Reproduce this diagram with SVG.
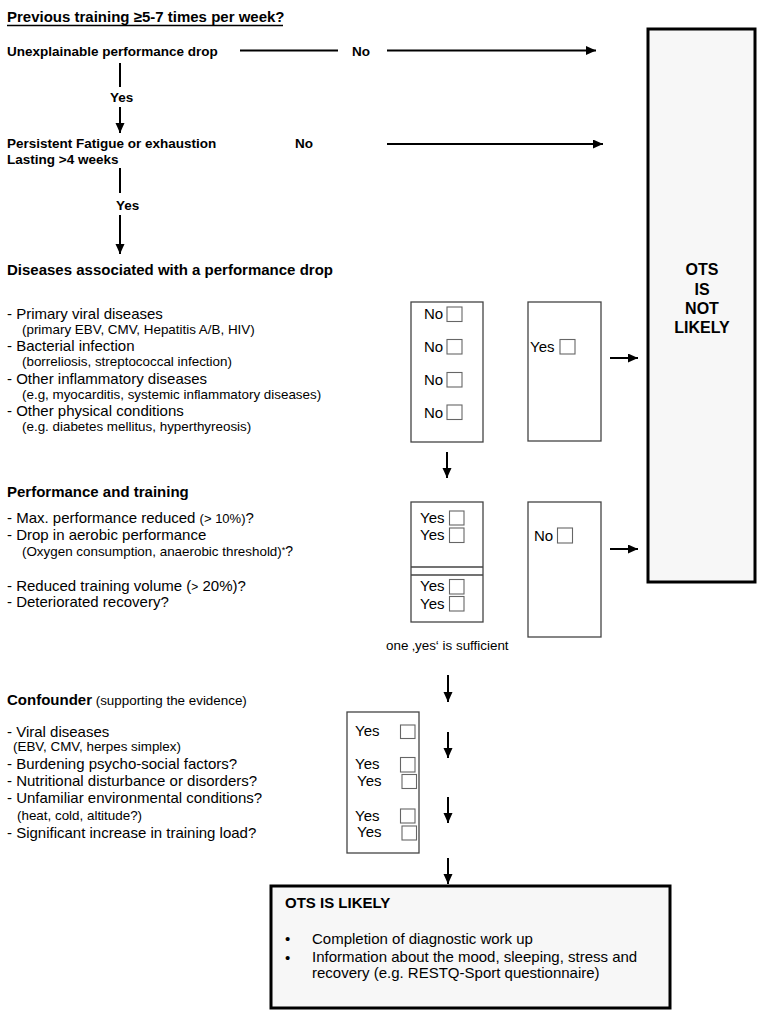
<svg xmlns="http://www.w3.org/2000/svg" width="768" height="1017" viewBox="0 0 768 1017">
<style>
text{font-family:"Liberation Sans",Arial,sans-serif;fill:#000}
.b{font-weight:bold}
.q{font-size:13.5px;font-weight:bold}
.h{font-size:15px;font-weight:bold}
.t{font-size:15px}
.s{font-size:13.4px}
.box{fill:#fff;stroke:#444;stroke-width:1.3}
.cb{fill:#fff;stroke:#666;stroke-width:1.1}
.big{fill:#f7f7f7;stroke:#000;stroke-width:3}
.ln{stroke:#000;stroke-width:2;fill:none}
.ar{stroke:#000;stroke-width:2;fill:none;marker-end:url(#ah)}
</style>
<defs>
<marker id="ah" markerUnits="userSpaceOnUse" markerWidth="11" markerHeight="10" refX="10" refY="4.5" orient="auto">
<path d="M0,0 L10,4.5 L0,9 Z" fill="#000"/>
</marker>
</defs>
<rect width="768" height="1017" fill="#fff"/>

<g id="title">
<text x="7" y="22" class="h">Previous training ≥5-7 times per week?</text>
<line x1="7" y1="25.5" x2="283" y2="25.5" stroke="#000" stroke-width="1.3"/>
</g>

<g id="q1"><text x="7" y="56" class="q">Unexplainable performance drop</text></g>
<g id="q2">
<text x="7" y="148" class="q">Persistent Fatigue or exhaustion</text>
<text x="7" y="164" class="q">Lasting &gt;4 weeks</text>
</g>

<g id="connectors">
<line x1="240" y1="50.5" x2="338" y2="50.5" class="ln"/>
<text x="352" y="56" class="q">No</text>
<line x1="387" y1="50.5" x2="596" y2="50.5" class="ar"/>
<line x1="120" y1="63" x2="120" y2="87" class="ln"/>
<text x="110" y="102" class="q">Yes</text>
<line x1="120" y1="107" x2="120" y2="133" class="ar"/>
<text x="295" y="148" class="q">No</text>
<line x1="387" y1="144" x2="603" y2="144" class="ar"/>
<line x1="120" y1="168" x2="120" y2="193" class="ln"/>
<text x="116" y="210" class="q">Yes</text>
<line x1="120" y1="215" x2="120" y2="254" class="ar"/>
<line x1="610" y1="358" x2="638" y2="358" class="ar"/>
<line x1="447" y1="452" x2="447" y2="478" class="ar"/>
<line x1="610" y1="549" x2="638" y2="549" class="ar"/>
<line x1="448" y1="675" x2="448" y2="702" class="ar"/>
<line x1="448" y1="732" x2="448" y2="758" class="ar"/>
<line x1="448" y1="797" x2="448" y2="823" class="ar"/>
<line x1="448" y1="858" x2="448" y2="884" class="ar"/>
</g>

<g id="diseases">
<text x="7" y="275" class="h">Diseases associated with a performance drop</text>
<text x="7" y="319" class="t">- Primary viral diseases</text>
<text x="22" y="334" class="s">(primary EBV, CMV, Hepatitis A/B, HIV)</text>
<text x="7" y="351" class="t">- Bacterial infection</text>
<text x="22" y="366" class="s">(borreliosis, streptococcal infection)</text>
<text x="7" y="384" class="t">- Other inflammatory diseases</text>
<text x="22" y="399" class="s">(e.g, myocarditis, systemic inflammatory diseases)</text>
<text x="7" y="416" class="t">- Other physical conditions</text>
<text x="22" y="431" class="s">(e.g. diabetes mellitus, hyperthyreosis)</text>
</g>

<g id="diseases-no">
<rect x="411" y="302" width="72" height="140" class="box"/>
<text x="424" y="319" class="t">No</text><rect x="447" y="307" width="15" height="14.5" class="cb"/>
<text x="424" y="352" class="t">No</text><rect x="447" y="339.5" width="15" height="14.5" class="cb"/>
<text x="424" y="385" class="t">No</text><rect x="447" y="372.5" width="15" height="14.5" class="cb"/>
<text x="424" y="418" class="t">No</text><rect x="447" y="405" width="15" height="14.5" class="cb"/>
</g>
<g id="diseases-yes">
<rect x="528" y="302" width="73" height="139" class="box"/>
<text x="530" y="352" class="t">Yes</text><rect x="560" y="339.5" width="15" height="14.5" class="cb"/>
</g>

<g id="not-likely">
<rect x="648" y="29" width="107" height="553" class="big"/>
<text x="702" y="275" class="b" font-size="16" text-anchor="middle">OTS</text>
<text x="702" y="295" class="b" font-size="16" text-anchor="middle">IS</text>
<text x="702" y="314" class="b" font-size="16" text-anchor="middle">NOT</text>
<text x="702" y="333" class="b" font-size="16" text-anchor="middle">LIKELY</text>
</g>

<g id="performance">
<text x="7" y="497" class="h">Performance and training</text>
<text x="7" y="523" class="t">- Max. performance reduced <tspan font-size="13">(&gt; 10%)</tspan>?</text>
<text x="7" y="540" class="t">- Drop in aerobic performance</text>
<text x="22" y="556" class="s">(Oxygen consumption, anaerobic threshold)<tspan font-size="9" dy="-3">*</tspan><tspan font-size="14" dy="3">?</tspan></text>
<text x="7" y="591" class="t">- Reduced training volume (<tspan font-size="12">&gt;</tspan> 20%)?</text>
<text x="7" y="607" class="t">- Deteriorated recovery?</text>
<text x="386" y="650" class="s">one ‚yes‘ is sufficient</text>
</g>

<g id="performance-yes">
<rect x="411" y="502" width="72" height="120" class="box"/>
<line x1="411" y1="567" x2="483" y2="567" stroke="#444" stroke-width="1.3"/>
<line x1="411" y1="575" x2="483" y2="575" stroke="#444" stroke-width="1.3"/>
<text x="420" y="523" class="t">Yes</text><rect x="449.5" y="511" width="14.5" height="14" class="cb"/>
<text x="420" y="540" class="t">Yes</text><rect x="449.5" y="528" width="14.5" height="14.5" class="cb"/>
<text x="420" y="591" class="t">Yes</text><rect x="449.5" y="579.5" width="14.5" height="14.5" class="cb"/>
<text x="420" y="609" class="t">Yes</text><rect x="449.5" y="596.5" width="14.5" height="14.5" class="cb"/>
</g>
<g id="performance-no">
<rect x="528" y="502" width="73" height="135" class="box"/>
<text x="534" y="541" class="t">No</text><rect x="557.5" y="528" width="15" height="15" class="cb"/>
</g>

<g id="confounder">
<text x="7" y="705"><tspan class="h">Confounder</tspan><tspan class="s"> (supporting the evidence)</tspan></text>
<text x="7" y="737" class="t">- Viral diseases</text>
<text x="13" y="751" class="s">(EBV, CMV, herpes simplex)</text>
<text x="7" y="769" class="t">- Burdening psycho-social factors?</text>
<text x="7" y="786" class="t">- Nutritional disturbance or disorders?</text>
<text x="7" y="803" class="t">- Unfamiliar environmental conditions?</text>
<text x="17" y="820" class="s">(heat, cold, altitude?)</text>
<text x="7" y="838" class="t">- Significant increase in training load?</text>
</g>

<g id="confounder-yes">
<rect x="347" y="712" width="72" height="141" class="box"/>
<text x="355" y="736" class="t">Yes</text><rect x="400.5" y="725" width="14.5" height="13.5" class="cb"/>
<text x="355" y="769" class="t">Yes</text><rect x="400.5" y="757.5" width="14.5" height="14.5" class="cb"/>
<text x="357" y="786" class="t">Yes</text><rect x="402" y="774.5" width="14.5" height="14" class="cb"/>
<text x="355" y="821" class="t">Yes</text><rect x="400.5" y="809" width="14.5" height="14" class="cb"/>
<text x="357" y="837" class="t">Yes</text><rect x="402" y="826" width="14.5" height="14" class="cb"/>
</g>

<g id="likely">
<rect x="271" y="886" width="399" height="122" class="big"/>
<text x="285" y="908" class="h">OTS IS LIKELY</text>
<text x="285" y="944" class="t">•</text>
<text x="312" y="944" class="t">Completion of diagnostic work up</text>
<text x="285" y="963" class="t">•</text>
<text x="312" y="962" class="t">Information about the mood, sleeping, stress and</text>
<text x="312" y="978" class="t">recovery (e.g. RESTQ-Sport questionnaire)</text>
</g>
</svg>
